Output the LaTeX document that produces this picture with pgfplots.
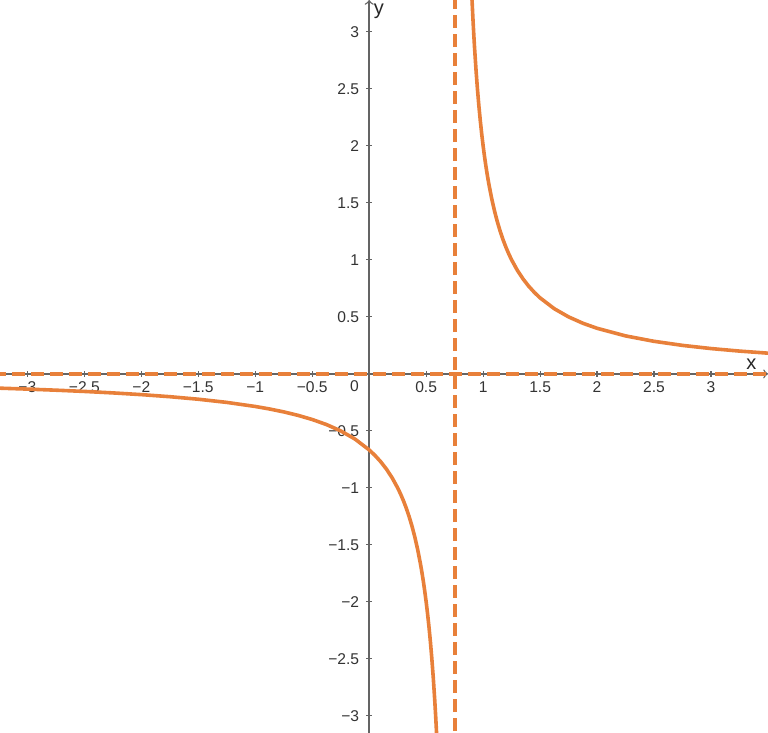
\documentclass[border=0pt]{standalone}
\usepackage{pgfplots}
\pgfplotsset{compat=1.18}
\usepackage{fontspec}
\setmainfont{Liberation Sans}
\definecolor{curve}{RGB}{232,128,58}
\definecolor{axisgray}{RGB}{100,100,100}

\begin{document}
\begin{tikzpicture}
\begin{axis}[
  scale only axis,
  width=384pt, height=366.5pt,
  axis lines=middle,
  xmin=-3.24, xmax=3.5,
  ymin=-3.15, ymax=3.28,
  axis line style={axisgray, line width=0.7pt, -to},
  xtick={-3,-2.5,-2,-1.5,-1,-0.5,0.5,1,1.5,2,2.5,3},
  xticklabels={−3,−2.5,−2,−1.5,−1,−0.5,0.5,1,1.5,2,2.5,3},
  ytick={-3,-2.5,-2,-1.5,-1,-0.5,0.5,1,1.5,2,2.5,3},
  yticklabels={−3,−2.5,−2,−1.5,−1,−0.5,0.5,1,1.5,2,2.5,3},
  major tick length=3pt,
  tick style={axisgray, line width=0.6pt},
  tick label style={font=\fontsize{7.8}{9}\selectfont, text=black!80},
  xticklabel style={anchor=north, yshift=1pt},
  yticklabel style={anchor=east, xshift=0pt},
  clip=true,
]
% asymptotes
\addplot[curve, line width=2pt, dash pattern=on 6.5pt off 3pt] coordinates {(0.75,-3.3) (0.75,3.4)};
\addplot[curve, line width=2pt, dash pattern=on 6.5pt off 3pt] coordinates {(-3.3,0) (3.6,0)};
% left branch
\addplot[curve, line width=1.8pt, line join=round] coordinates {
  (-3.24,-0.1253) (-3,-0.1333) (-2.75,-0.1429) (-2.5,-0.1538) (-2.25,-0.1667)
  (-2,-0.1818) (-1.75,-0.2) (-1.5,-0.2222) (-1.25,-0.25) (-1,-0.2857)
  (-0.875,-0.3077) (-0.75,-0.3333) (-0.625,-0.3636) (-0.5,-0.4) (-0.375,-0.4444)
  (-0.25,-0.5) (-0.125,-0.5714) (0,-0.6667) (0.05,-0.7143) (0.1,-0.7692)
  (0.15,-0.8333) (0.2,-0.9091) (0.25,-1) (0.275,-1.0526) (0.3,-1.1111)
  (0.325,-1.1765) (0.35,-1.25) (0.375,-1.3333) (0.4,-1.4286) (0.425,-1.5385)
  (0.45,-1.6667) (0.4625,-1.7391) (0.475,-1.8182) (0.4875,-1.9048) (0.5,-2)
  (0.5125,-2.1053) (0.525,-2.2222) (0.5375,-2.3529) (0.55,-2.5) (0.5625,-2.6667)
  (0.575,-2.8571) (0.5825,-2.9851) (0.59,-3.125) (0.6,-3.3333) (0.607,-3.4965)
};
% right branch
\addplot[curve, line width=1.8pt, line join=round] coordinates {
  (0.893,3.4965) (0.9,3.3333) (0.91,3.125) (0.9175,2.9851) (0.925,2.8571)
  (0.9375,2.6667) (0.95,2.5) (0.9625,2.3529) (0.975,2.2222) (0.9875,2.1053)
  (1,2) (1.0125,1.9048) (1.025,1.8182) (1.0375,1.7391) (1.05,1.6667)
  (1.075,1.5385) (1.1,1.4286) (1.125,1.3333) (1.15,1.25) (1.175,1.1765)
  (1.2,1.1111) (1.225,1.0526) (1.25,1) (1.3,0.9091) (1.35,0.8333)
  (1.4,0.7692) (1.45,0.7143) (1.5,0.6667) (1.625,0.5714) (1.75,0.5)
  (1.875,0.4444) (2,0.4) (2.25,0.3333) (2.5,0.2857) (2.75,0.25)
  (3,0.2222) (3.25,0.2) (3.5,0.1818)
};
\node[anchor=north east, font=\fontsize{7.8}{9}\selectfont, text=black!80, inner sep=2pt, xshift=-3pt, yshift=-1pt] at (axis cs:0,0) {0};
\node[anchor=south east, font=\fontsize{10}{11}\selectfont, text=black!85, inner sep=1pt] at (axis cs:3.42,0.02) {x};
\node[anchor=north west, font=\fontsize{10}{11}\selectfont, text=black!85, inner sep=1pt] at (axis cs:0.02,3.27) {y};
\end{axis}
\pgfresetboundingbox
\path (0,0) rectangle (384pt,366.5pt);
\end{tikzpicture}
\end{document}
